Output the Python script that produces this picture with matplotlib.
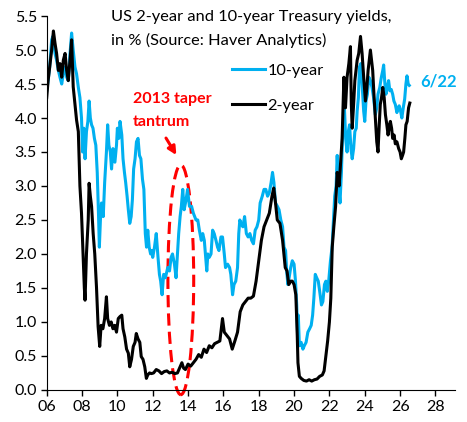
import numpy as np
import matplotlib
matplotlib.use("Agg")
import matplotlib.pyplot as plt
from matplotlib.patches import Ellipse

plt.rcParams['font.family'] = ['Lato', 'DejaVu Sans']

# US 2-year yield (decimal year, %)
years_2y = [2006.00, 2006.08, 2006.17, 2006.28, 2006.38, 2006.47, 2006.56, 2006.66, 2006.75, 2006.85,
            2006.94, 2007.04, 2007.13, 2007.22, 2007.32, 2007.41, 2007.50, 2007.60, 2007.69, 2007.79,
            2007.88, 2007.97, 2008.06, 2008.13, 2008.17, 2008.25, 2008.35, 2008.40, 2008.47, 2008.54,
            2008.63, 2008.72, 2008.82, 2008.91, 2009.00, 2009.08, 2009.18, 2009.28, 2009.38, 2009.45,
            2009.55, 2009.65, 2009.75, 2009.85, 2009.95, 2010.05, 2010.15, 2010.25, 2010.32, 2010.42,
            2010.52, 2010.62, 2010.70, 2010.80, 2010.90, 2011.00, 2011.07, 2011.17, 2011.27, 2011.35,
            2011.45, 2011.55, 2011.64, 2011.72, 2011.82, 2011.92, 2012.05, 2012.20, 2012.35, 2012.50,
            2012.65, 2012.80, 2012.95, 2013.10, 2013.25, 2013.40, 2013.55, 2013.65, 2013.75, 2013.85,
            2014.00, 2014.15, 2014.30, 2014.45, 2014.60, 2014.75, 2014.90, 2015.05, 2015.20, 2015.35,
            2015.50, 2015.65, 2015.80, 2015.95, 2016.05, 2016.20, 2016.35, 2016.50, 2016.65, 2016.80,
            2016.95, 2017.10, 2017.25, 2017.40, 2017.55, 2017.70, 2017.85, 2018.00, 2018.15, 2018.30,
            2018.45, 2018.60, 2018.75, 2018.85, 2018.95, 2019.05, 2019.20, 2019.35, 2019.50, 2019.60,
            2019.70, 2019.80, 2019.90, 2020.00, 2020.10, 2020.18, 2020.22, 2020.30, 2020.40, 2020.55,
            2020.70, 2020.85, 2021.00, 2021.15, 2021.30, 2021.45, 2021.60, 2021.70, 2021.80, 2021.90,
            2022.00, 2022.08, 2022.16, 2022.25, 2022.35, 2022.44, 2022.55, 2022.65, 2022.72, 2022.82,
            2022.91, 2023.00, 2023.10, 2023.19, 2023.24, 2023.29, 2023.37, 2023.44, 2023.57, 2023.66,
            2023.76, 2023.85, 2023.94, 2024.04, 2024.12, 2024.19, 2024.32, 2024.45, 2024.52, 2024.60,
            2024.68, 2024.75, 2024.82, 2024.88, 2024.95, 2025.02, 2025.10, 2025.17, 2025.25, 2025.32,
            2025.40, 2025.45, 2025.52, 2025.58, 2025.66, 2025.73, 2025.82, 2025.92, 2026.00, 2026.07,
            2026.14, 2026.20, 2026.27, 2026.33, 2026.40, 2026.48, 2026.55]
yield_2y = [4.30, 4.55, 4.75, 5.00, 5.28, 5.10, 4.95, 4.70, 4.80, 4.60,
            4.85, 4.95, 4.70, 4.55, 4.85, 5.15, 4.46, 4.20, 3.97, 3.80,
            3.00, 2.60, 2.00, 1.50, 1.32, 2.00, 2.50, 3.04, 2.85, 2.70,
            2.30, 2.00, 1.50, 0.93, 0.64, 0.95, 0.90, 1.05, 1.37, 1.05,
            0.95, 1.00, 0.90, 0.95, 0.85, 1.05, 1.08, 1.10, 0.90, 0.78,
            0.60, 0.54, 0.34, 0.45, 0.64, 0.70, 0.83, 0.75, 0.70, 0.49,
            0.45, 0.34, 0.17, 0.22, 0.25, 0.24, 0.25, 0.30, 0.28, 0.24,
            0.27, 0.28, 0.25, 0.26, 0.24, 0.25, 0.34, 0.40, 0.32, 0.30,
            0.38, 0.35, 0.40, 0.45, 0.52, 0.48, 0.60, 0.55, 0.65, 0.62,
            0.68, 0.70, 0.72, 1.05, 0.85, 0.80, 0.75, 0.60, 0.72, 0.85,
            1.15, 1.25, 1.30, 1.35, 1.35, 1.38, 1.60, 1.90, 2.20, 2.40,
            2.50, 2.60, 2.85, 2.97, 2.75, 2.50, 2.45, 2.20, 1.80, 1.75,
            1.55, 1.60, 1.60, 1.55, 1.40, 0.80, 0.40, 0.20, 0.17, 0.14,
            0.13, 0.15, 0.13, 0.15, 0.16, 0.20, 0.22, 0.28, 0.50, 0.72,
            1.00, 1.35, 2.10, 2.40, 2.70, 3.20, 3.00, 3.40, 3.70, 4.60,
            4.15, 4.60, 4.80, 5.05, 4.20, 3.85, 4.20, 4.55, 4.85, 4.95,
            5.20, 4.95, 4.60, 4.25, 4.45, 4.70, 5.00, 4.70, 4.35, 4.00,
            3.65, 3.50, 3.90, 4.20, 4.30, 4.45, 4.30, 4.05, 3.90, 3.75,
            3.90, 3.95, 3.85, 3.70, 3.75, 3.62, 3.65, 3.55, 3.50, 3.40,
            3.45, 3.50, 3.70, 3.90, 3.95, 4.15, 4.22]

# US 10-year yield (decimal year, %)
years_10y = [2006.00, 2006.08, 2006.17, 2006.28, 2006.35, 2006.47, 2006.56, 2006.66, 2006.75, 2006.85,
             2006.94, 2007.04, 2007.13, 2007.22, 2007.32, 2007.41, 2007.50, 2007.60, 2007.69, 2007.79,
             2007.88, 2007.97, 2008.03, 2008.10, 2008.17, 2008.25, 2008.33, 2008.40, 2008.47, 2008.54,
             2008.62, 2008.70, 2008.78, 2008.86, 2008.93, 2008.98, 2009.04, 2009.10, 2009.20, 2009.28,
             2009.38, 2009.45, 2009.52, 2009.60, 2009.67, 2009.75, 2009.86, 2009.95, 2010.00, 2010.08,
             2010.15, 2010.25, 2010.32, 2010.40, 2010.47, 2010.55, 2010.62, 2010.70, 2010.78, 2010.85,
             2010.92, 2011.00, 2011.08, 2011.17, 2011.25, 2011.33, 2011.42, 2011.50, 2011.58, 2011.65,
             2011.72, 2011.80, 2011.88, 2011.95, 2012.00, 2012.10, 2012.20, 2012.30, 2012.38, 2012.45,
             2012.53, 2012.62, 2012.72, 2012.85, 2012.95, 2013.04, 2013.12, 2013.23, 2013.32, 2013.40,
             2013.47, 2013.55, 2013.62, 2013.70, 2013.78, 2013.89, 2013.97, 2014.08, 2014.20, 2014.30,
             2014.45, 2014.55, 2014.64, 2014.75, 2014.83, 2014.92, 2015.00, 2015.06, 2015.12, 2015.20,
             2015.30, 2015.39, 2015.48, 2015.58, 2015.67, 2015.75, 2015.86, 2015.95, 2016.05, 2016.12,
             2016.24, 2016.35, 2016.42, 2016.52, 2016.60, 2016.70, 2016.80, 2016.87, 2016.93, 2017.00,
             2017.10, 2017.20, 2017.30, 2017.40, 2017.50, 2017.60, 2017.70, 2017.80, 2017.90, 2018.00,
             2018.08, 2018.20, 2018.30, 2018.40, 2018.50, 2018.60, 2018.70, 2018.78, 2018.86, 2018.95,
             2019.06, 2019.15, 2019.25, 2019.35, 2019.43, 2019.52, 2019.58, 2019.65, 2019.72, 2019.81,
             2019.90, 2020.00, 2020.08, 2020.15, 2020.20, 2020.24, 2020.30, 2020.40, 2020.50, 2020.58,
             2020.68, 2020.78, 2020.88, 2020.97, 2021.05, 2021.12, 2021.20, 2021.28, 2021.37, 2021.45,
             2021.55, 2021.63, 2021.72, 2021.80, 2021.88, 2021.96, 2022.06, 2022.15, 2022.22, 2022.30,
             2022.38, 2022.44, 2022.52, 2022.60, 2022.68, 2022.75, 2022.85, 2022.92, 2023.00, 2023.07,
             2023.14, 2023.22, 2023.29, 2023.37, 2023.44, 2023.52, 2023.57, 2023.64, 2023.70, 2023.78,
             2023.85, 2023.94, 2024.00, 2024.07, 2024.15, 2024.23, 2024.32, 2024.41, 2024.50, 2024.60,
             2024.68, 2024.75, 2024.85, 2024.94, 2025.02, 2025.07, 2025.14, 2025.20, 2025.27, 2025.35,
             2025.42, 2025.50, 2025.58, 2025.65, 2025.73, 2025.82, 2025.88, 2025.95, 2026.03, 2026.10,
             2026.18, 2026.26, 2026.33, 2026.39, 2026.46, 2026.52]
yield_10y = [4.40, 4.55, 4.75, 5.15, 5.20, 4.95, 4.85, 4.70, 4.60, 4.50,
             4.65, 4.75, 4.60, 4.55, 4.95, 5.25, 5.00, 4.75, 4.65, 4.45,
             4.30, 4.00, 3.50, 3.85, 3.40, 3.80, 3.95, 4.25, 4.00, 3.90,
             3.85, 3.70, 3.60, 3.20, 2.60, 2.10, 2.50, 2.75, 2.55, 3.05,
             3.50, 3.90, 3.60, 3.50, 3.25, 3.55, 3.35, 3.60, 3.85, 3.70,
             3.95, 3.75, 3.40, 3.20, 3.05, 2.85, 2.65, 2.45, 2.55, 2.80,
             3.25, 3.40, 3.65, 3.70, 3.45, 3.40, 3.10, 2.95, 2.30, 2.10,
             2.35, 2.10, 2.00, 2.05, 1.95, 2.10, 2.30, 1.95, 1.70, 1.60,
             1.40, 1.70, 1.65, 1.80, 1.75, 1.95, 2.00, 1.85, 1.65, 2.00,
             2.30, 2.55, 2.70, 2.95, 2.65, 2.80, 2.95, 2.70, 2.70, 2.60,
             2.50, 2.50, 2.35, 2.20, 2.30, 2.20, 1.95, 1.75, 2.00, 1.95,
             2.00, 2.35, 2.30, 2.20, 2.10, 2.05, 2.25, 2.25, 2.00, 1.80,
             1.85, 1.80, 1.70, 1.40, 1.55, 1.60, 1.80, 2.30, 2.50, 2.45,
             2.40, 2.55, 2.30, 2.25, 2.30, 2.20, 2.15, 2.35, 2.40, 2.50,
             2.75, 2.85, 2.95, 2.95, 2.85, 2.90, 3.05, 3.20, 3.05, 2.75,
             2.70, 2.65, 2.50, 2.40, 2.10, 2.05, 1.75, 1.55, 1.65, 1.80,
             1.90, 1.85, 1.60, 1.25, 0.80, 1.10, 0.65, 0.70, 0.60, 0.65,
             0.70, 0.85, 0.90, 0.95, 1.10, 1.35, 1.70, 1.65, 1.60, 1.45,
             1.25, 1.30, 1.55, 1.60, 1.45, 1.60, 1.90, 2.10, 2.45, 2.85,
             3.00, 3.45, 3.00, 2.75, 3.20, 3.80, 4.15, 3.70, 3.50, 3.80,
             3.90, 3.55, 3.40, 3.55, 3.80, 3.85, 4.10, 4.30, 4.75, 4.80,
             4.50, 4.10, 3.95, 4.25, 4.35, 4.60, 4.55, 4.45, 4.30, 4.05,
             4.15, 4.35, 4.45, 4.60, 4.70, 4.78, 4.50, 4.35, 4.45, 4.55,
             4.40, 4.42, 4.35, 4.25, 4.20, 4.08, 4.15, 4.18, 4.10, 4.00,
             4.15, 4.28, 4.50, 4.62, 4.50, 4.48]

x_ticks = np.arange(2006, 2029, 2)
x_tick_labels = ["%02d" % (y % 100) for y in x_ticks]
y_ticks = np.arange(0, 5.51, 0.5)

blue = "#00B0F0"
red = "#FF0000"

fig = plt.figure(figsize=(4.67, 4.22), dpi=100)
ax = fig.add_axes([0.1, 0.076, 0.874, 0.886])

ax.plot(years_10y, yield_10y, color=blue, lw=2.2, label="10-year")
ax.plot(years_2y, yield_2y, color="black", lw=2.2, label="2-year")

ax.set_xlim(2006, 2029.1)
ax.set_ylim(0, 5.5)
ax.set_xticks(x_ticks)
ax.set_xticklabels(x_tick_labels)
ax.set_yticks(y_ticks)
ax.set_yticklabels(["%.1f" % v for v in y_ticks])
ax.tick_params(direction="out", length=4, width=1, labelsize=11.5, pad=3)
ax.spines["top"].set_visible(False)
ax.spines["right"].set_visible(False)

# taper tantrum ellipse + arrow
ell = Ellipse((2013.59, 1.62), width=1.46, height=3.38, fill=False,
              edgecolor=red, lw=2.2, linestyle=(0, (4, 2)), clip_on=False)
ax.add_patch(ell)
ax.annotate("", xy=(2013.42, 3.42), xytext=(2012.67, 3.74),
            arrowprops=dict(arrowstyle="-|>", color=red, lw=2.2, mutation_scale=12))
fig.text(0.285, 0.765, "2013 taper", color=red, fontsize=11.5, fontweight="bold", va="center")
fig.text(0.285, 0.711, "tantrum", color=red, fontsize=11.5, fontweight="bold", va="center")

fig.text(0.238, 0.960, "US 2-year and 10-year Treasury yields,", fontsize=11.8, va="center")
fig.text(0.238, 0.903, "in % (Source: Haver Analytics)", fontsize=11.8, va="center")
fig.text(0.900, 0.806, "6/22", color=blue, fontsize=12, fontweight="bold", va="center")

ax.legend(loc="upper left", bbox_to_anchor=(0.454, 0.874), frameon=False, fontsize=11.8,
          handlelength=2.0, handletextpad=0.15, labelspacing=1.25, borderpad=0, borderaxespad=0)

fig.savefig("out.png", dpi=100)
